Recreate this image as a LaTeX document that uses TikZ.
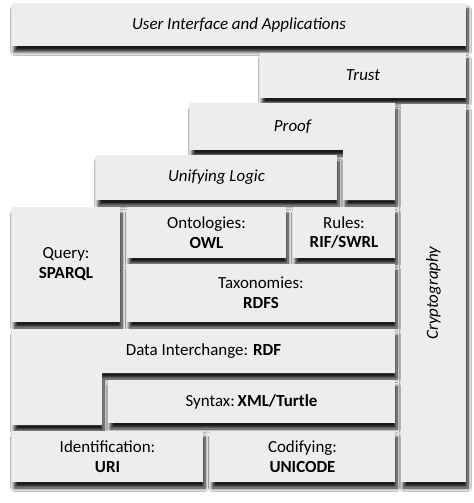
\documentclass[tikz,border=0pt]{standalone}
\usepackage{fontspec}
\setmainfont{Carlito}
\usetikzlibrary{shadows.blur}
\definecolor{boxfill}{HTML}{EDEDED}
\tikzset{
  shade layer/.style={blur shadow={shadow xshift=2bp, shadow yshift=-6bp, shadow blur steps=8, shadow blur radius=3.5bp, shadow opacity=90}},
  layer/.style={fill=boxfill},
  lbl/.style={font=\fontsize{17}{20}\selectfont, align=center, inner sep=0pt, text=black},
}
\begin{document}
\begin{tikzpicture}[x=1bp,y=-1bp]
\useasboundingbox (0,0) rectangle (474,503);
\fill[white] (0,0) rectangle (474,503);
% shadows
\path[shade layer] (12,3) rectangle (466,46);
\path[shade layer] (260,53) rectangle (466,98);
\path[shade layer] (401,104) rectangle (466,482);
\path[shade layer] (190,103) -- (395,103) -- (395,200) -- (343,200) -- (343,150) -- (190,150) -- cycle;
\path[shade layer] (96,155) rectangle (337,200);
\path[shade layer] (12,207) rectangle (120,322);
\path[shade layer] (127,207) rectangle (286,258);
\path[shade layer] (293,207) rectangle (395,258);
\path[shade layer] (127,264) rectangle (395,322);
\path[shade layer] (12,329) -- (395,329) -- (395,373) -- (102,373) -- (102,425) -- (12,425) -- cycle;
\path[shade layer] (108,380) rectangle (395,423);
\path[shade layer] (12,431) rectangle (203,482);
\path[shade layer] (210,431) rectangle (395,482);
% boxes
\fill[layer] (12,3) rectangle (466,46);
\fill[layer] (260,53) rectangle (466,98);
\fill[layer] (401,104) rectangle (466,482);
\fill[layer] (190,103) -- (395,103) -- (395,200) -- (343,200) -- (343,150) -- (190,150) -- cycle;
\fill[layer] (96,155) rectangle (337,200);
\fill[layer] (12,207) rectangle (120,322);
\fill[layer] (127,207) rectangle (286,258);
\fill[layer] (293,207) rectangle (395,258);
\fill[layer] (127,264) rectangle (395,322);
\fill[layer] (12,329) -- (395,329) -- (395,373) -- (102,373) -- (102,425) -- (12,425) -- cycle;
\fill[layer] (108,380) rectangle (395,423);
\fill[layer] (12,431) rectangle (203,482);
\fill[layer] (210,431) rectangle (395,482);
% labels
\node[lbl] (ui) at (239,24.5) {\itshape User Interface and Applications};
\node[lbl] (trust) at (363,75.5) {\itshape Trust};
\node[lbl] (proof) at (292.5,126.5) {\itshape Proof};
\node[lbl] (logic) at (216.5,177.5) {\itshape Unifying Logic};
\node[lbl] (query) at (66,264.5) {Query:\\\textbf{SPARQL}};
\node[lbl] (onto) at (206.5,232.5) {Ontologies:\\\textbf{OWL}};
\node[lbl] (rules) at (344,232.5) {Rules:\\\textbf{RIF/SWRL}};
\node[lbl] (tax) at (261,293) {Taxonomies:\\\textbf{RDFS}};
\node[lbl] (rdf) at (203.5,351) {Data Interchange: \textbf{RDF}};
\node[lbl] (syntax) at (251.5,401.5) {Syntax:\,\textbf{XML/Turtle}};
\node[lbl] (uri) at (107.5,456.5) {Identification:\\\textbf{URI}};
\node[lbl] (unicode) at (302.5,456.5) {Codifying:\\\textbf{UNICODE}};
\node[lbl, rotate=90] (crypto) at (433.5,293) {\itshape Cryptography};
\end{tikzpicture}
\end{document}
